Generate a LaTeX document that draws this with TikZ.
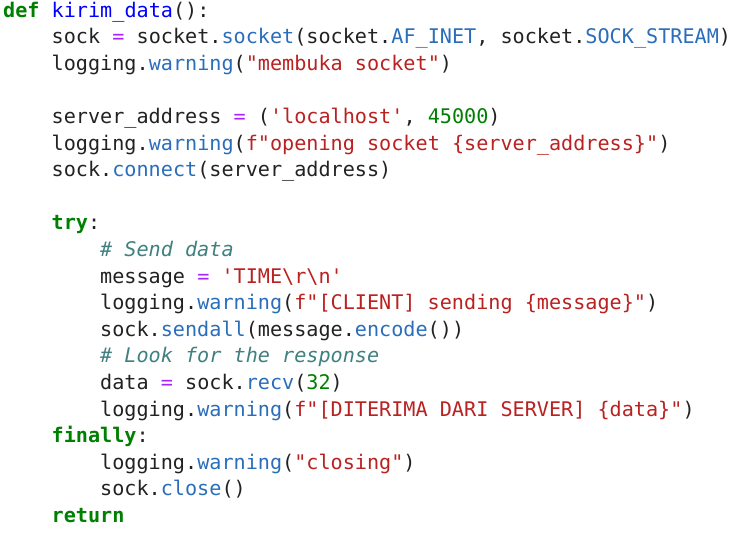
\documentclass[tikz,border=0pt]{standalone}
\usepackage{fontspec}
\setmonofont{DejaVu Sans Mono}
\definecolor{kwc}{HTML}{008000}
\definecolor{fnc}{HTML}{0000FF}
\definecolor{atc}{HTML}{2A6EBB}
\definecolor{opc}{HTML}{AA22FF}
\definecolor{stc}{HTML}{BA2121}
\definecolor{cmc}{HTML}{408080}
\definecolor{txc}{HTML}{222222}
\newcommand{\Kw}[1]{\textcolor{kwc}{\bfseries #1}}
\newcommand{\Fn}[1]{\textcolor{fnc}{#1}}
\newcommand{\At}[1]{\textcolor{atc}{#1}}
\newcommand{\Op}[1]{\textcolor{opc}{#1}}
\newcommand{\St}[1]{\textcolor{stc}{#1}}
\newcommand{\Nm}[1]{\textcolor{kwc}{#1}}
\newcommand{\Cm}[1]{\textcolor{cmc}{\itshape #1}}
\begin{document}
\begin{tikzpicture}[x=1pt,y=-1pt,
  code/.style={anchor=base west,inner sep=0pt,font=\fontsize{20.15}{24}\selectfont\ttfamily,text=txc}]
\useasboundingbox[fill=white] (0,0) rectangle (751,536);
\def\ind{48.5}
\node[code] (l0) at (3,17) {\Kw{def} \Fn{kirim\_data}():};
\node[code] (l1) at (3+\ind,43.6) {sock \Op{=} socket.\At{socket}(socket.\At{AF\_INET}, socket.\At{SOCK\_STREAM})};
\node[code] (l2) at (3+\ind,70.2) {logging.\At{warning}(\St{"membuka socket"})};
\node[code] (l4) at (3+\ind,123.4) {server\_address \Op{=} (\St{'localhost'}, \Nm{45000})};
\node[code] (l5) at (3+\ind,150) {logging.\At{warning}(\St{f"opening socket \{server\_address\}"})};
\node[code] (l6) at (3+\ind,176.6) {sock.\At{connect}(server\_address)};
\node[code] (l8) at (3+\ind,229.8) {\Kw{try}:};
\node[code] (l9) at (3+2*\ind,256.4) {\Cm{\# Send data}};
\node[code] (l10) at (3+2*\ind,283) {message \Op{=} \St{'TIME\textbackslash r\textbackslash n'}};
\node[code] (l11) at (3+2*\ind,309.6) {logging.\At{warning}(\St{f"[CLIENT] sending \{message\}"})};
\node[code] (l12) at (3+2*\ind,336.2) {sock.\At{sendall}(message.\At{encode}())};
\node[code] (l13) at (3+2*\ind,362.8) {\Cm{\# Look for the response}};
\node[code] (l14) at (3+2*\ind,389.4) {data \Op{=} sock.\At{recv}(\Nm{32})};
\node[code] (l15) at (3+2*\ind,416) {logging.\At{warning}(\St{f"[DITERIMA DARI SERVER] \{data\}"})};
\node[code] (l16) at (3+\ind,442.6) {\Kw{finally}:};
\node[code] (l17) at (3+2*\ind,469.2) {logging.\At{warning}(\St{"closing"})};
\node[code] (l18) at (3+2*\ind,495.8) {sock.\At{close}()};
\node[code] (l19) at (3+\ind,522.4) {\Kw{return}};
\end{tikzpicture}
\end{document}
